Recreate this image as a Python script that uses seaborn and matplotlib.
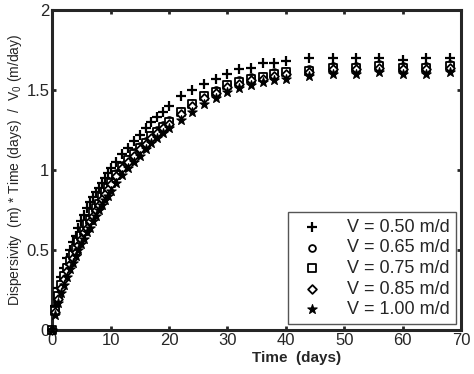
import numpy as np
import pandas as pd
import seaborn as sns
import matplotlib
matplotlib.use('Agg')
import matplotlib.pyplot as plt

# sampling times (days)
time = [0, 0.5, 1, 1.5, 2, 2.5, 3, 3.5, 4, 4.5, 5, 5.5, 6, 6.5, 7, 7.5, 8, 8.5, 9, 9.5, 10,
        11, 12, 13, 14, 15, 16, 17, 18, 19, 20,
        22, 24, 26, 28, 30, 32, 34, 36, 38, 40,
        44, 48, 52, 56, 60, 64, 68]

v050 = [0, 0.15, 0.26, 0.33, 0.39, 0.45, 0.50, 0.55, 0.59, 0.64, 0.68, 0.72, 0.76, 0.80, 0.83, 0.86,
        0.89, 0.92, 0.95, 0.98, 1.01,
        1.05, 1.10, 1.14, 1.18, 1.22, 1.26, 1.30, 1.33, 1.36, 1.40,
        1.46, 1.50, 1.54, 1.57, 1.60, 1.63, 1.64, 1.67, 1.67, 1.68,
        1.70, 1.70, 1.70, 1.70, 1.69, 1.70, 1.70]
v065 = [0, 0.13, 0.22, 0.29, 0.35, 0.40, 0.44, 0.48, 0.52, 0.56, 0.60, 0.63, 0.67, 0.70, 0.74, 0.77,
        0.80, 0.84, 0.87, 0.90, 0.93,
        0.98, 1.03, 1.07, 1.11, 1.15, 1.18, 1.22, 1.25, 1.28, 1.31,
        1.37, 1.42, 1.47, 1.50, 1.54, 1.56, 1.58, 1.59, 1.61, 1.62,
        1.63, 1.65, 1.65, 1.66, 1.65, 1.65, 1.66]
v075 = [0, 0.12, 0.21, 0.28, 0.34, 0.39, 0.43, 0.47, 0.51, 0.55, 0.59, 0.62, 0.66, 0.69, 0.73, 0.76,
        0.79, 0.83, 0.86, 0.89, 0.92,
        0.97, 1.02, 1.06, 1.10, 1.14, 1.17, 1.21, 1.24, 1.27, 1.30,
        1.36, 1.41, 1.46, 1.49, 1.53, 1.55, 1.57, 1.58, 1.60, 1.61,
        1.62, 1.64, 1.64, 1.65, 1.64, 1.64, 1.65]
v085 = [0, 0.11, 0.19, 0.26, 0.32, 0.37, 0.41, 0.45, 0.49, 0.53, 0.57, 0.61, 0.64, 0.68, 0.71, 0.75,
        0.78, 0.82, 0.85, 0.88, 0.91,
        0.96, 1.01, 1.05, 1.09, 1.13, 1.16, 1.20, 1.23, 1.26, 1.29,
        1.35, 1.40, 1.45, 1.48, 1.52, 1.54, 1.56, 1.57, 1.59, 1.60,
        1.61, 1.63, 1.63, 1.64, 1.63, 1.63, 1.64]
v100 = [0, 0.09, 0.17, 0.23, 0.28, 0.33, 0.38, 0.42, 0.46, 0.50, 0.54, 0.57, 0.61, 0.64, 0.68, 0.71,
        0.75, 0.78, 0.81, 0.84, 0.87,
        0.92, 0.97, 1.01, 1.05, 1.09, 1.13, 1.17, 1.20, 1.23, 1.26,
        1.31, 1.36, 1.41, 1.45, 1.49, 1.51, 1.53, 1.55, 1.56, 1.57,
        1.59, 1.60, 1.60, 1.61, 1.60, 1.60, 1.61]

labels = ['V = 0.50 m/d', 'V = 0.65 m/d', 'V = 0.75 m/d', 'V = 0.85 m/d', 'V = 1.00 m/d']
series = [v050, v065, v075, v085, v100]
markers = ['+', 'o', 's', 'D', '*']

sns.set_style('ticks')
plt.rcParams['font.family'] = ['Liberation Sans', 'DejaVu Sans']
plt.rcParams['mathtext.fontset'] = 'custom'
plt.rcParams['mathtext.rm'] = 'Liberation Sans'
plt.rcParams['mathtext.it'] = 'Liberation Sans:italic'

fig = plt.figure(figsize=(4.74, 3.74), dpi=100)
ax = fig.add_axes([0.110, 0.118, 0.863, 0.855])

for lab, vals, m in zip(labels, series, markers):
    df = pd.DataFrame({'t': time, 'y': vals})
    if m == '+':
        sns.scatterplot(data=df, x='t', y='y', marker='+', color='black', s=45,
                        linewidth=1.6, label=lab, ax=ax, clip_on=False, zorder=3)
    elif m == '*':
        sns.scatterplot(data=df, x='t', y='y', marker='*', color='black', s=50,
                        edgecolor='black', linewidth=0.8, label=lab, ax=ax,
                        clip_on=False, zorder=3)
    else:
        size = {'o': 24, 's': 26, 'D': 20}[m]
        sns.scatterplot(data=df, x='t', y='y', marker=m, facecolor='white', s=size,
                        edgecolor='black', linewidth=1.3, label=lab, ax=ax,
                        clip_on=False, zorder=3)

ax.set_xlim(0, 70)
ax.set_ylim(0, 2)
ax.set_xticks(range(0, 71, 10))
ax.set_yticks([0, 0.5, 1, 1.5, 2])
ax.set_yticklabels(['0', '0.5', '1', '1.5', '2'])
ax.tick_params(direction='in', top=True, right=True, length=3, width=2,
               labelsize=12, pad=2)
for sp in ax.spines.values():
    sp.set_linewidth(2.2)
    sp.set_visible(True)

ax.set_xlabel('Time  (days)', fontsize=11, fontweight='bold', labelpad=1)
ax.xaxis.set_label_coords(0.597, -0.065)
ax.set_ylabel('Dispersivity  (m) * Time (days)  /  V$_0$ (m/day)', fontsize=10, labelpad=2)

leg = ax.legend(loc='lower right', fontsize=13, frameon=True, fancybox=False,
                edgecolor='#555555', framealpha=1, handletextpad=0.9,
                borderpad=0.35, labelspacing=0.2, handlelength=2.0,
                borderaxespad=0.3)
leg.get_frame().set_linewidth(1.0)
leg.set_zorder(5)

fig.savefig('out.png', dpi=100)
